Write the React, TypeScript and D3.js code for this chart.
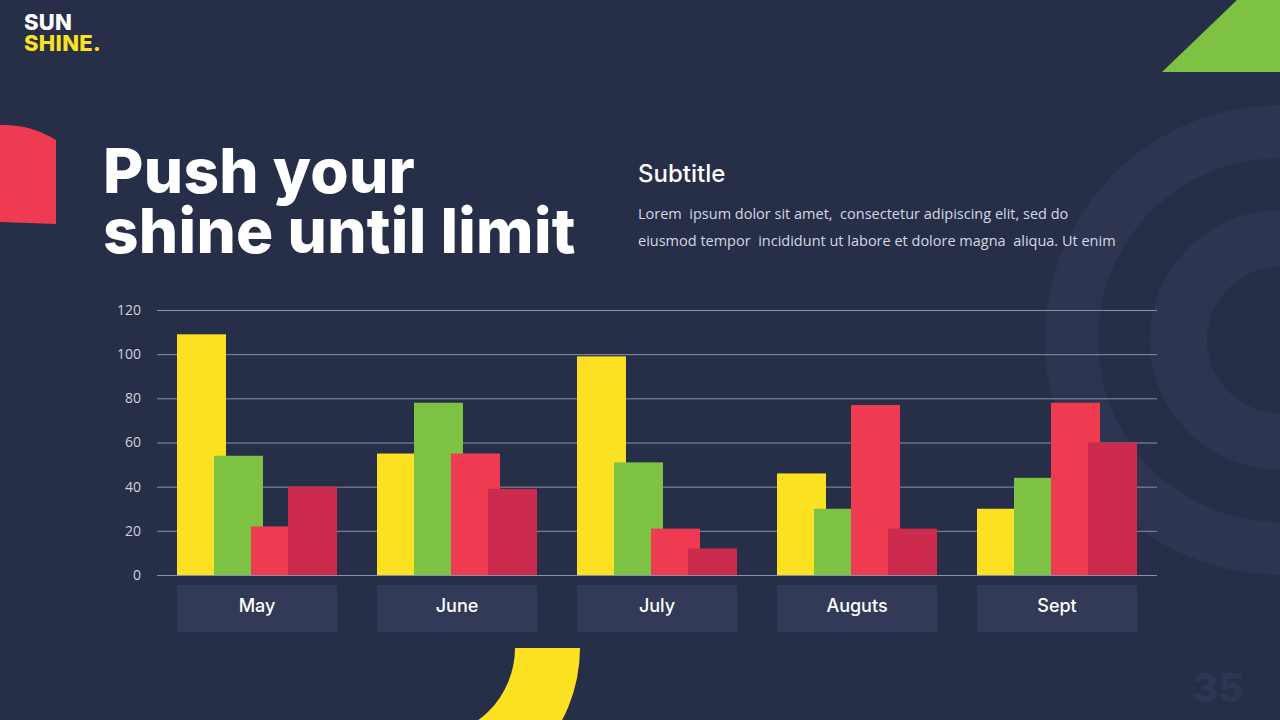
import React, { useEffect, useRef } from 'react'
import * as d3 from 'd3'

const months = ['May', 'June', 'July', 'Auguts', 'Sept']
const seriesA = [109, 55, 99, 46, 30]
const seriesB = [54, 78, 51, 30, 44]
const seriesC = [22, 55, 21, 77, 78]
const seriesD = [40, 39, 12, 21, 60]
const yTicks = [0, 20, 40, 60, 80, 100, 120]

const titleLines = ['Push your', 'shine until limit']
const bodyLines = [
  'Lorem  ipsum dolor sit amet,  consectetur adipiscing elit, sed do',
  'eiusmod tempor  incididunt ut labore et dolore magna  aliqua. Ut enim',
]

const App: React.FC = () => {
  const ref = useRef<SVGSVGElement>(null)

  useEffect(() => {
    renderChart()
  }, [])

  const renderChart = () => {
    const width = 1280
    const height = 720
    const bg = '#272e48'
    const ring = '#2e3551'
    const colors = ['#fbe122', '#7dc242', '#ef3b52', '#cc2b4d']
    const headFont = 'Inter, "Noto Sans", sans-serif'
    const bodyFont = '"Open Sans", "Noto Sans", sans-serif'

    const svg = d3.select(ref.current)
    svg.selectAll('*').remove()
    svg.attr('width', width).attr('height', height)

    /* Background + decorations */
    svg.append('rect').attr('width', width).attr('height', height).attr('fill', bg)

    const rings = [
      { r: 235, fill: ring },
      { r: 182, fill: bg },
      { r: 130, fill: ring },
      { r: 73, fill: bg },
    ]
    svg
      .append('g')
      .selectAll('circle')
      .data(rings)
      .enter()
      .append('circle')
      .attr('cx', 1280)
      .attr('cy', 340)
      .attr('r', (d) => d.r)
      .attr('fill', (d) => d.fill)

    svg
      .append('path')
      .attr('d', 'M1162,72 L1237,0 L1280,0 L1280,72 Z')
      .attr('fill', colors[1])

    svg
      .append('path')
      .attr('d', 'M0,125 A99,99 0 0 1 56,140 L56,224 L0,222 Z')
      .attr('fill', colors[2])

    const yellowArc = d3
      .arc()
      .innerRadius(89)
      .outerRadius(154)
      .startAngle(Math.PI / 2)
      .endAngle(Math.PI)
    svg
      .append('path')
      .attr('transform', 'translate(426,648)')
      .attr('d', yellowArc({} as any) as string)
      .attr('fill', colors[0])

    svg
      .append('text')
      .attr('x', 1218)
      .attr('y', 702)
      .attr('text-anchor', 'middle')
      .attr('fill', '#2f3652')
      .style('font-family', headFont)
      .style('font-weight', 800)
      .style('font-size', '40px')
      .text('35')

    /* Logo: one text, two lines */
    const logo = svg
      .append('text')
      .style('font-family', headFont)
      .style('font-weight', 800)
      .style('font-size', '22px')
      .style('letter-spacing', '0.3px')
    logo.append('tspan').attr('x', 24).attr('y', 30).attr('fill', '#ffffff').text('SUN')
    logo.append('tspan').attr('x', 24).attr('y', 51).attr('fill', colors[0]).text('SHINE.')

    /* Title */
    const title = svg
      .append('text')
      .attr('fill', '#ffffff')
      .style('font-family', headFont)
      .style('font-weight', 800)
      .style('font-size', '62px')
      .style('letter-spacing', '0.3px')
    title
      .selectAll('tspan')
      .data(titleLines)
      .enter()
      .append('tspan')
      .attr('x', 103)
      .attr('y', (d, i) => 193 + i * 60)
      .text((d) => d)

    svg
      .append('text')
      .attr('x', 638)
      .attr('y', 182)
      .attr('fill', '#ffffff')
      .style('font-family', headFont)
      .style('font-weight', 500)
      .style('font-size', '24px')
      .text('Subtitle')

    const body = svg
      .append('text')
      .attr('fill', '#d5d8e2')
      .attr('xml:space', 'preserve')
      .style('white-space', 'pre')
      .style('font-family', bodyFont)
      .style('font-size', '14.5px')
    body
      .selectAll('tspan')
      .data(bodyLines)
      .enter()
      .append('tspan')
      .attr('x', 638)
      .attr('y', (d, i) => 219 + i * 27)
      .text((d) => d)

    /* Scales */
    const xScale = d3
      .scaleBand()
      .domain(months)
      .range([157, 1157])
      .paddingInner(0.2)
      .paddingOuter(0.1)
    const yScale = d3.scaleLinear().domain([0, 120]).range([575, 310])

    const barW = 49
    const barStep = (xScale.bandwidth() - barW) / 3

    /* Grid + y axis */
    const grid = svg.append('g')
    grid
      .selectAll('line')
      .data(yTicks)
      .enter()
      .append('line')
      .attr('x1', 157)
      .attr('x2', 1157)
      .attr('y1', (d) => yScale(d) + 0.5)
      .attr('y2', (d) => yScale(d) + 0.5)
      .attr('stroke', '#8a90a6')
      .attr('stroke-width', 1)
    grid
      .selectAll('text')
      .data(yTicks)
      .enter()
      .append('text')
      .attr('x', 141)
      .attr('y', (d) => yScale(d))
      .attr('dy', '0.35em')
      .attr('text-anchor', 'end')
      .attr('fill', '#d0d3dd')
      .style('font-family', bodyFont)
      .style('font-size', '14px')
      .text((d) => d)

    /* Bars */
    const series = [seriesA, seriesB, seriesC, seriesD]
    series.forEach((values, s) => {
      svg
        .append('g')
        .selectAll('rect')
        .data(values)
        .enter()
        .append('rect')
        .attr('x', (d, i) => (xScale(months[i]) as number) + s * barStep)
        .attr('y', (d) => yScale(d))
        .attr('width', barW)
        .attr('height', (d) => yScale(0) - yScale(d))
        .attr('fill', colors[s])
    })

    /* Category labels */
    const cats = svg
      .append('g')
      .selectAll('g')
      .data(months)
      .enter()
      .append('g')
      .attr('transform', (d) => `translate(${xScale(d)}, 585)`)
    cats
      .append('rect')
      .attr('width', xScale.bandwidth())
      .attr('height', 47)
      .attr('fill', '#323a57')
    cats
      .append('text')
      .attr('x', xScale.bandwidth() / 2)
      .attr('y', 27)
      .attr('text-anchor', 'middle')
      .attr('fill', '#ffffff')
      .style('font-family', headFont)
      .style('font-weight', 500)
      .style('font-size', '18px')
      .text((d) => d)
  }

  return (
    <div style={{ position: 'fixed', left: 0, top: 0, width: 1280, height: 720 }}>
      <svg ref={ref} style={{ display: 'block' }} />
    </div>
  )
}

export default App
